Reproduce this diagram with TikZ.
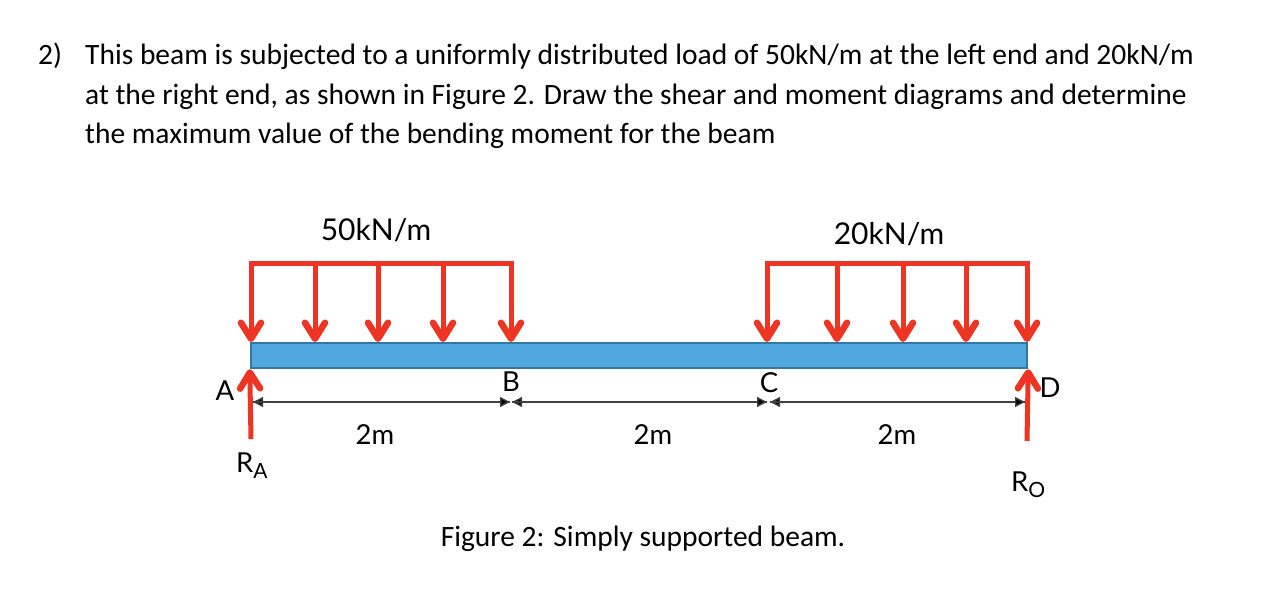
\documentclass[tikz,border=0pt]{standalone}
\usepackage{fontspec}
\setmainfont{Carlito}
\newfontfamily\labelfont{Lato}
\usetikzlibrary{arrows.meta,calc}
\definecolor{loadred}{HTML}{EE3524}
\definecolor{beamblue}{HTML}{4FA9DE}
\definecolor{beamedge}{HTML}{34789F}
\newcommand{\lowsub}[1]{\raisebox{-6pt}{\fontsize{21}{24}\selectfont #1}}
\tikzset{
    prose/.style={anchor=base west,inner sep=0pt,font=\fontsize{29.5}{35}\selectfont},
    fig/.style={inner sep=0pt,font=\labelfont\fontsize{27.5}{32}\selectfont},
    rate/.style={inner sep=0pt,font=\labelfont\fontsize{30}{34}\selectfont},
    load/.style={draw=loadred,line width=5pt,-{Straight Barb[length=16pt,width=20pt,line width=6.5pt,round]}},
    span/.style={draw=black!75,line width=1.4pt,-{Triangle[length=10pt,width=10pt,fill=black]}}
}
\begin{document}
\begin{tikzpicture}[x=1pt,y=-1pt]
    \useasboundingbox (0,0) rectangle (1280,600);
    \fill[white] (0,0) rectangle (1280,600);

    % question text
    \node[prose] (num) at (38,64) {2)};
    \node[prose] (lineone) at (85,64) {This beam is subjected to a uniformly distributed load of 50kN/m at the left end and 20kN/m};
    \node[prose] (linetwo) at (85,104) {at the right end, as shown in Figure 2. Draw the shear and moment diagrams and determine};
    \node[prose] (linethree) at (85,143) {the maximum value of the bending moment for the beam};

    % beam
    \node[draw=beamedge,fill=beamblue,line width=2.5pt,minimum width=776pt,minimum height=25pt,inner sep=0pt] (beam) at (639,355.5) {};

    % left load
    \coordinate (lt) at (251,263);
    \coordinate (lb) at (511,263);
    \draw[loadred,line width=5pt,line cap=rect] (lt) -- (lb);
    \foreach \x/\n in {251/a,315/b,378/c,443/d,511/e}{
        \coordinate (ltop\n) at (\x,263);
        \coordinate (lend\n) at (\x,342);
        \draw[load] (ltop\n) -- (lend\n);
    }

    % right load
    \coordinate (rt) at (767,263);
    \coordinate (rb) at (1027,263);
    \draw[loadred,line width=5pt,line cap=rect] (rt) -- (rb);
    \foreach \x/\n in {767/a,837/b,903/c,966/d,1027/e}{
        \coordinate (rtop\n) at (\x,263);
        \coordinate (rend\n) at (\x,342);
        \draw[load] (rtop\n) -- (rend\n);
    }

    % reactions
    \coordinate (ra) at (251,439);
    \coordinate (rd) at (1027,441);
    \draw[load] (ra) -- (beam.south west);
    \draw[load] (rd) -- (beam.south east);

    % spans
    \coordinate (d1) at (253,402);
    \coordinate (d2) at (510,402);
    \coordinate (d3) at (512,402);
    \coordinate (d4) at (767,402);
    \coordinate (d5) at (770,402);
    \coordinate (d6) at (1025,402);
    \draw[span] (d2) -- (d1);
    \draw[span] (d1) -- (d2);
    \draw[span] (d4) -- (d3);
    \draw[span] (d3) -- (d4);
    \draw[span] (d6) -- (d5);
    \draw[span] (d5) -- (d6);

    % labels
    \node[rate] (lleft) at (376,230) {50kN/m};
    \node[rate] (lright) at (889,234) {20kN/m};
    \node[fig] (pa) at (225,391) {A};
    \node[fig] (pb) at (511,382) {B};
    \node[fig] (pc) at (769,383) {C};
    \node[fig] (pd) at (1050,388) {D};
    \node[fig] (s1) at (375,435) {2m};
    \node[fig] (s2) at (653,435) {2m};
    \node[fig] (s3) at (897,435) {2m};
    \node[fig,anchor=base west] (rla) at (236,472) {R\lowsub{A}};
    \node[fig,anchor=base west] (rlo) at (1011,491) {R\lowsub{O}};

    \node[prose,anchor=base] (caption) at (643,546) {Figure 2: Simply supported beam.};

\end{tikzpicture}
\end{document}
